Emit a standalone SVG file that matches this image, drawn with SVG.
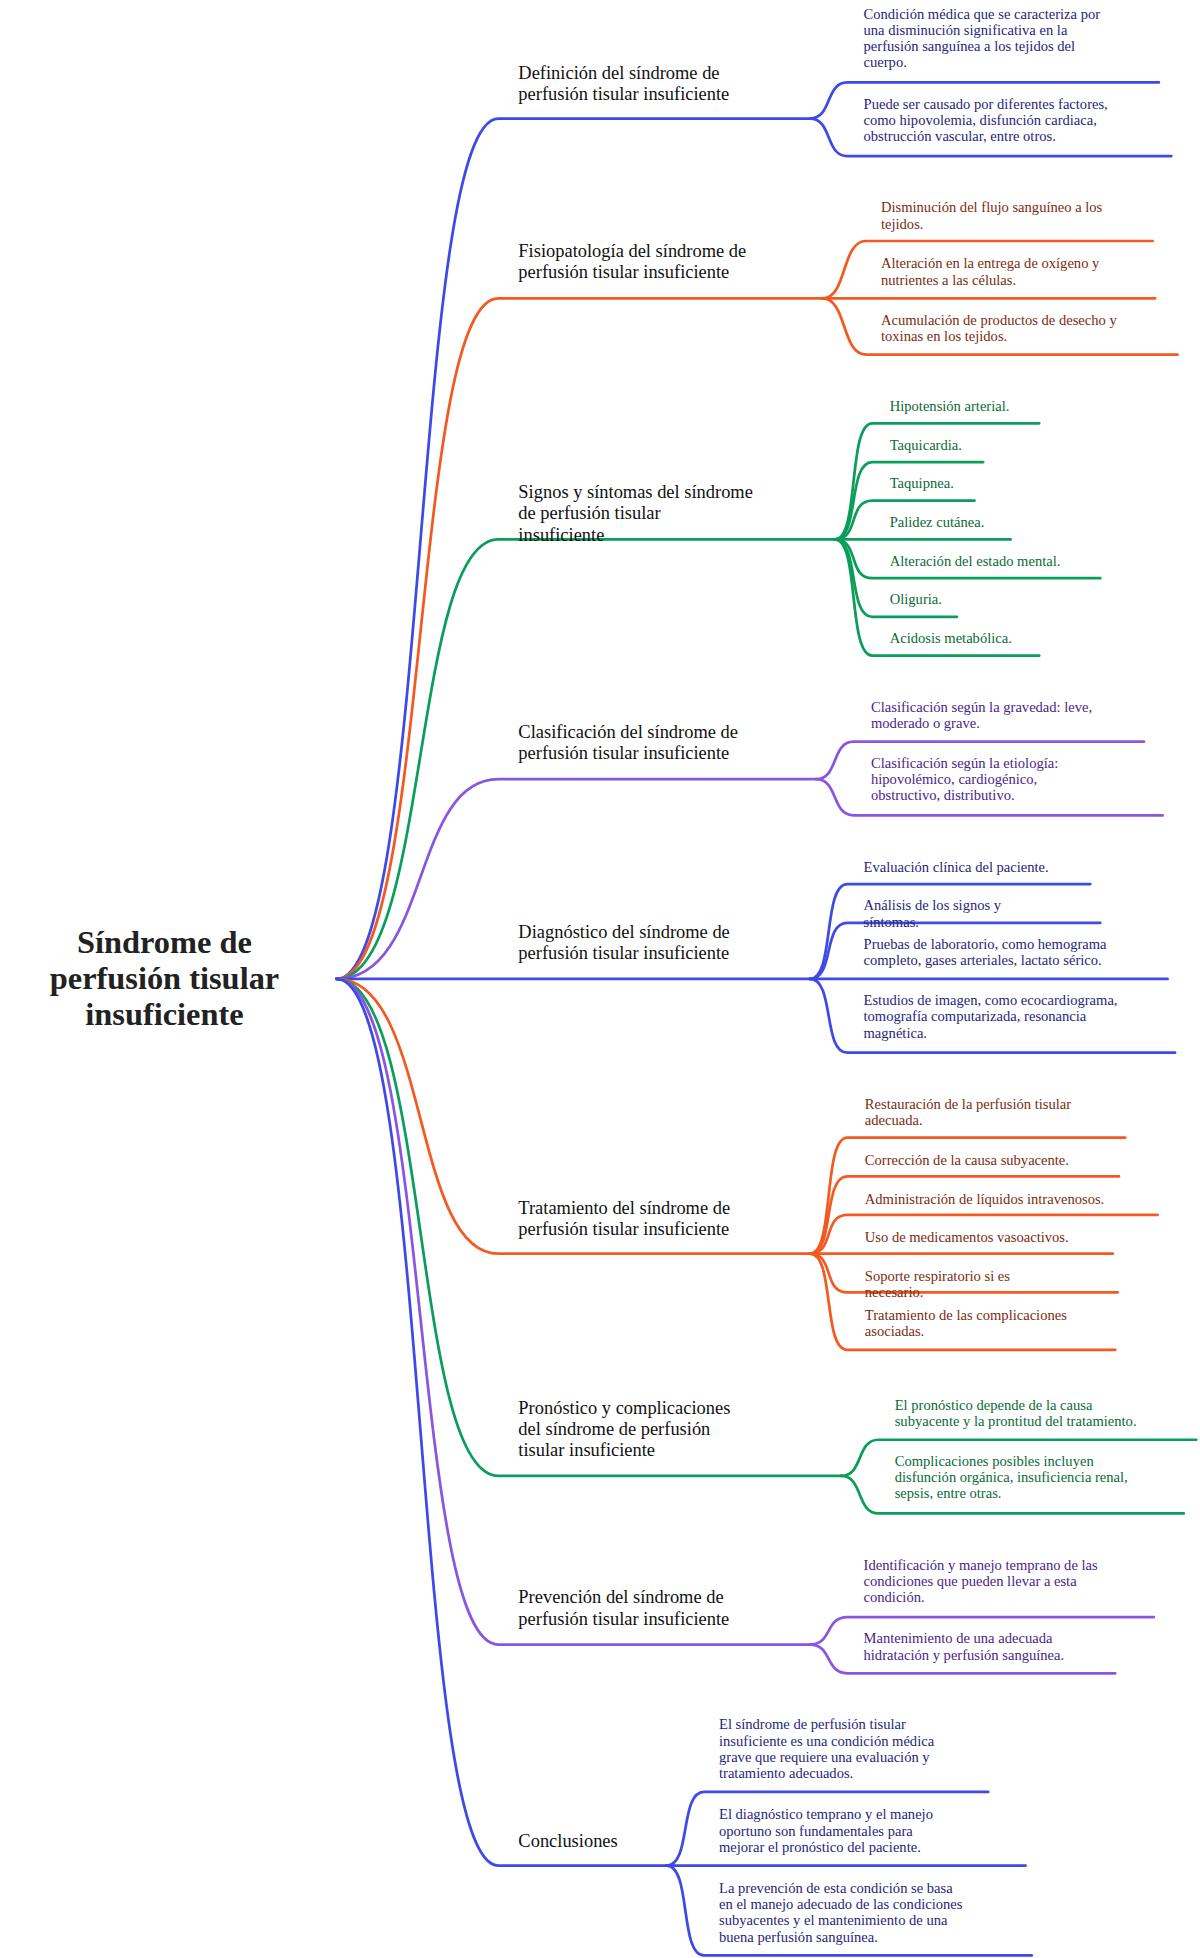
<svg xmlns="http://www.w3.org/2000/svg" width="1200" height="1958" viewBox="0 0 1200 1958">
<style>
.c{fill:none;stroke-width:2.2;stroke-linecap:round}
.b{stroke:#3f4ae6}.o{stroke:#f25a22}.g{stroke:#0a9e5a}.p{stroke:#8a55e0}
text{font-family:"Liberation Serif","DejaVu Serif",serif}
.r{font-size:26px;font-weight:bold;fill:#222;text-anchor:middle}
.m{font-size:14.8px;fill:#111}
.l{font-size:11.7px}
.tb{fill:#26267a}.to{fill:#7a2c10}.tg{fill:#0a6a38}.tp{fill:#4a2588}
</style>
<rect width="1200" height="1958" fill="#fff"/>
<g transform="scale(1.2461,1.2487)">
<g id="connectors">
<path class="c b" d="M270,784 C345,784 330,95 400,95 H650"/>
<path class="c o" d="M270,784 C345,784 330,239 400,239 H660"/>
<path class="c g" d="M270,784 C345,784 330,432 400,432 H670"/>
<path class="c p" d="M270,784 C345,784 330,624 400,624 H655"/>
<path class="c b" d="M270,784 H650"/>
<path class="c o" d="M270,784 C345,784 330,1004 400,1004 H650"/>
<path class="c g" d="M270,784 C345,784 330,1182 400,1182 H675"/>
<path class="c p" d="M270,784 C345,784 330,1317 400,1317 H650"/>
<path class="c b" d="M270,784 C345,784 330,1494 400,1494 H535"/>
<g class="c b" stroke-width="2">
<path d="M650,95 C668,95 662,66 680,66 H930"/><path d="M650,95 C668,95 662,125 680,125 H940"/>
</g>
<g class="c o">
<path d="M660,239 C680,239 675,193 695,193 H925"/><path d="M660,239 H927"/><path d="M660,239 C680,239 675,284 695,284 H945"/>
</g>
<g class="c g">
<path d="M670,432 C690,432 680,339 700,339 H834"/><path d="M670,432 C690,432 680,370 700,370 H789"/><path d="M670,432 C690,432 680,401 700,401 H782"/><path d="M670,432 H811"/><path d="M670,432 C690,432 680,463 700,463 H883"/><path d="M670,432 C690,432 680,494 700,494 H768"/><path d="M670,432 C690,432 680,525 700,525 H834"/>
</g>
<g class="c p">
<path d="M655,624 C673,624 667,594 685,594 H918"/><path d="M655,624 C673,624 667,653 685,653 H933"/>
</g>
<g class="c b">
<path d="M650,784 C670,784 660,708 680,708 H875"/><path d="M650,784 C670,784 660,739 680,739 H883"/><path d="M650,784 H937"/><path d="M650,784 C670,784 660,843 680,843 H943"/>
</g>
<g class="c o">
<path d="M650,1004 C670,1004 660,911 680,911 H903"/><path d="M650,1004 C670,1004 660,942 680,942 H898"/><path d="M650,1004 C670,1004 660,973 680,973 H929"/><path d="M650,1004 H893"/><path d="M650,1004 C670,1004 660,1035 680,1035 H897"/><path d="M650,1004 C670,1004 660,1081 680,1081 H895"/>
</g>
<g class="c g">
<path d="M675,1182 C693,1182 687,1153 705,1153 H960"/><path d="M675,1182 C693,1182 687,1212 705,1212 H950"/>
</g>
<g class="c p">
<path d="M650,1317 C668,1317 662,1295 680,1295 H926"/><path d="M650,1317 C668,1317 662,1340 680,1340 H895"/>
</g>
<g class="c b">
<path d="M535,1494 C555,1494 545,1435 565,1435 H793"/><path d="M535,1494 H823"/><path d="M535,1494 C555,1494 545,1566 565,1566 H828"/>
</g>
</g>
<g id="root"><text class="r" x="132" y="763">Síndrome de</text><text class="r" x="132" y="792">perfusión tisular</text><text class="r" x="132" y="821">insuficiente</text></g>
<g id="n1"><text class="m" x="416" y="63">Definición del síndrome de</text><text class="m" x="416" y="80">perfusión tisular insuficiente</text></g>
<g id="n1a" class="l tb"><text x="693" y="15">Condición médica que se caracteriza por</text><text x="693" y="28">una disminución significativa en la</text><text x="693" y="41">perfusión sanguínea a los tejidos del</text><text x="693" y="54">cuerpo.</text></g>
<g id="n1b" class="l tb"><text x="693" y="87">Puede ser causado por diferentes factores,</text><text x="693" y="100">como hipovolemia, disfunción cardiaca,</text><text x="693" y="113">obstrucción vascular, entre otros.</text></g>
<g id="n2"><text class="m" x="416" y="206">Fisiopatología del síndrome de</text><text class="m" x="416" y="223">perfusión tisular insuficiente</text></g>
<g id="n2a" class="l to"><text x="707" y="170">Disminución del flujo sanguíneo a los</text><text x="707" y="183">tejidos.</text></g>
<g id="n2b" class="l to"><text x="707" y="215">Alteración en la entrega de oxígeno y</text><text x="707" y="228">nutrientes a las células.</text></g>
<g id="n2c" class="l to"><text x="707" y="260">Acumulación de productos de desecho y</text><text x="707" y="273">toxinas en los tejidos.</text></g>
<g id="n3"><text class="m" x="416" y="399">Signos y síntomas del síndrome</text><text class="m" x="416" y="416">de perfusión tisular</text><text class="m" x="416" y="433">insuficiente</text></g>
<g id="n3a" class="l tg"><text x="714" y="329">Hipotensión arterial.</text></g>
<g id="n3b" class="l tg"><text x="714" y="360">Taquicardia.</text></g>
<g id="n3c" class="l tg"><text x="714" y="391">Taquipnea.</text></g>
<g id="n3d" class="l tg"><text x="714" y="422">Palidez cutánea.</text></g>
<g id="n3e" class="l tg"><text x="714" y="453">Alteración del estado mental.</text></g>
<g id="n3f" class="l tg"><text x="714" y="484">Oliguria.</text></g>
<g id="n3g" class="l tg"><text x="714" y="515">Acidosis metabólica.</text></g>
<g id="n4"><text class="m" x="416" y="591">Clasificación del síndrome de</text><text class="m" x="416" y="608">perfusión tisular insuficiente</text></g>
<g id="n4a" class="l tp"><text x="699" y="570">Clasificación según la gravedad: leve,</text><text x="699" y="583">moderado o grave.</text></g>
<g id="n4b" class="l tp"><text x="699" y="615">Clasificación según la etiología:</text><text x="699" y="628">hipovolémico, cardiogénico,</text><text x="699" y="641">obstructivo, distributivo.</text></g>
<g id="n5"><text class="m" x="416" y="751">Diagnóstico del síndrome de</text><text class="m" x="416" y="768">perfusión tisular insuficiente</text></g>
<g id="n5a" class="l tb"><text x="693" y="698">Evaluación clínica del paciente.</text></g>
<g id="n5b" class="l tb"><text x="693" y="729">Análisis de los signos y</text><text x="693" y="742">síntomas.</text></g>
<g id="n5c" class="l tb"><text x="693" y="760">Pruebas de laboratorio, como hemograma</text><text x="693" y="773">completo, gases arteriales, lactato sérico.</text></g>
<g id="n5d" class="l tb"><text x="693" y="805">Estudios de imagen, como ecocardiograma,</text><text x="693" y="818">tomografía computarizada, resonancia</text><text x="693" y="831">magnética.</text></g>
<g id="n6"><text class="m" x="416" y="972">Tratamiento del síndrome de</text><text class="m" x="416" y="989">perfusión tisular insuficiente</text></g>
<g id="n6a" class="l to"><text x="694" y="888">Restauración de la perfusión tisular</text><text x="694" y="901">adecuada.</text></g>
<g id="n6b" class="l to"><text x="694" y="933">Corrección de la causa subyacente.</text></g>
<g id="n6c" class="l to"><text x="694" y="964">Administración de líquidos intravenosos.</text></g>
<g id="n6d" class="l to"><text x="694" y="995">Uso de medicamentos vasoactivos.</text></g>
<g id="n6e" class="l to"><text x="694" y="1026">Soporte respiratorio si es</text><text x="694" y="1039">necesario.</text></g>
<g id="n6f" class="l to"><text x="694" y="1057">Tratamiento de las complicaciones</text><text x="694" y="1070">asociadas.</text></g>
<g id="n7"><text class="m" x="416" y="1132">Pronóstico y complicaciones</text><text class="m" x="416" y="1149">del síndrome de perfusión</text><text class="m" x="416" y="1166">tisular insuficiente</text></g>
<g id="n7a" class="l tg"><text x="718" y="1129">El pronóstico depende de la causa</text><text x="718" y="1142">subyacente y la prontitud del tratamiento.</text></g>
<g id="n7b" class="l tg"><text x="718" y="1174">Complicaciones posibles incluyen</text><text x="718" y="1187">disfunción orgánica, insuficiencia renal,</text><text x="718" y="1200">sepsis, entre otras.</text></g>
<g id="n8"><text class="m" x="416" y="1284">Prevención del síndrome de</text><text class="m" x="416" y="1301">perfusión tisular insuficiente</text></g>
<g id="n8a" class="l tp"><text x="693" y="1257">Identificación y manejo temprano de las</text><text x="693" y="1270">condiciones que pueden llevar a esta</text><text x="693" y="1283">condición.</text></g>
<g id="n8b" class="l tp"><text x="693" y="1316">Mantenimiento de una adecuada</text><text x="693" y="1329">hidratación y perfusión sanguínea.</text></g>
<g id="n9"><text class="m" x="416" y="1479">Conclusiones</text></g>
<g id="n9a" class="l tb"><text x="577" y="1385">El síndrome de perfusión tisular</text><text x="577" y="1398">insuficiente es una condición médica</text><text x="577" y="1411">grave que requiere una evaluación y</text><text x="577" y="1424">tratamiento adecuados.</text></g>
<g id="n9b" class="l tb"><text x="577" y="1457">El diagnóstico temprano y el manejo</text><text x="577" y="1470">oportuno son fundamentales para</text><text x="577" y="1483">mejorar el pronóstico del paciente.</text></g>
<g id="n9c" class="l tb"><text x="577" y="1516">La prevención de esta condición se basa</text><text x="577" y="1529">en el manejo adecuado de las condiciones</text><text x="577" y="1542">subyacentes y el mantenimiento de una</text><text x="577" y="1555">buena perfusión sanguínea.</text></g>
</g>
</svg>
